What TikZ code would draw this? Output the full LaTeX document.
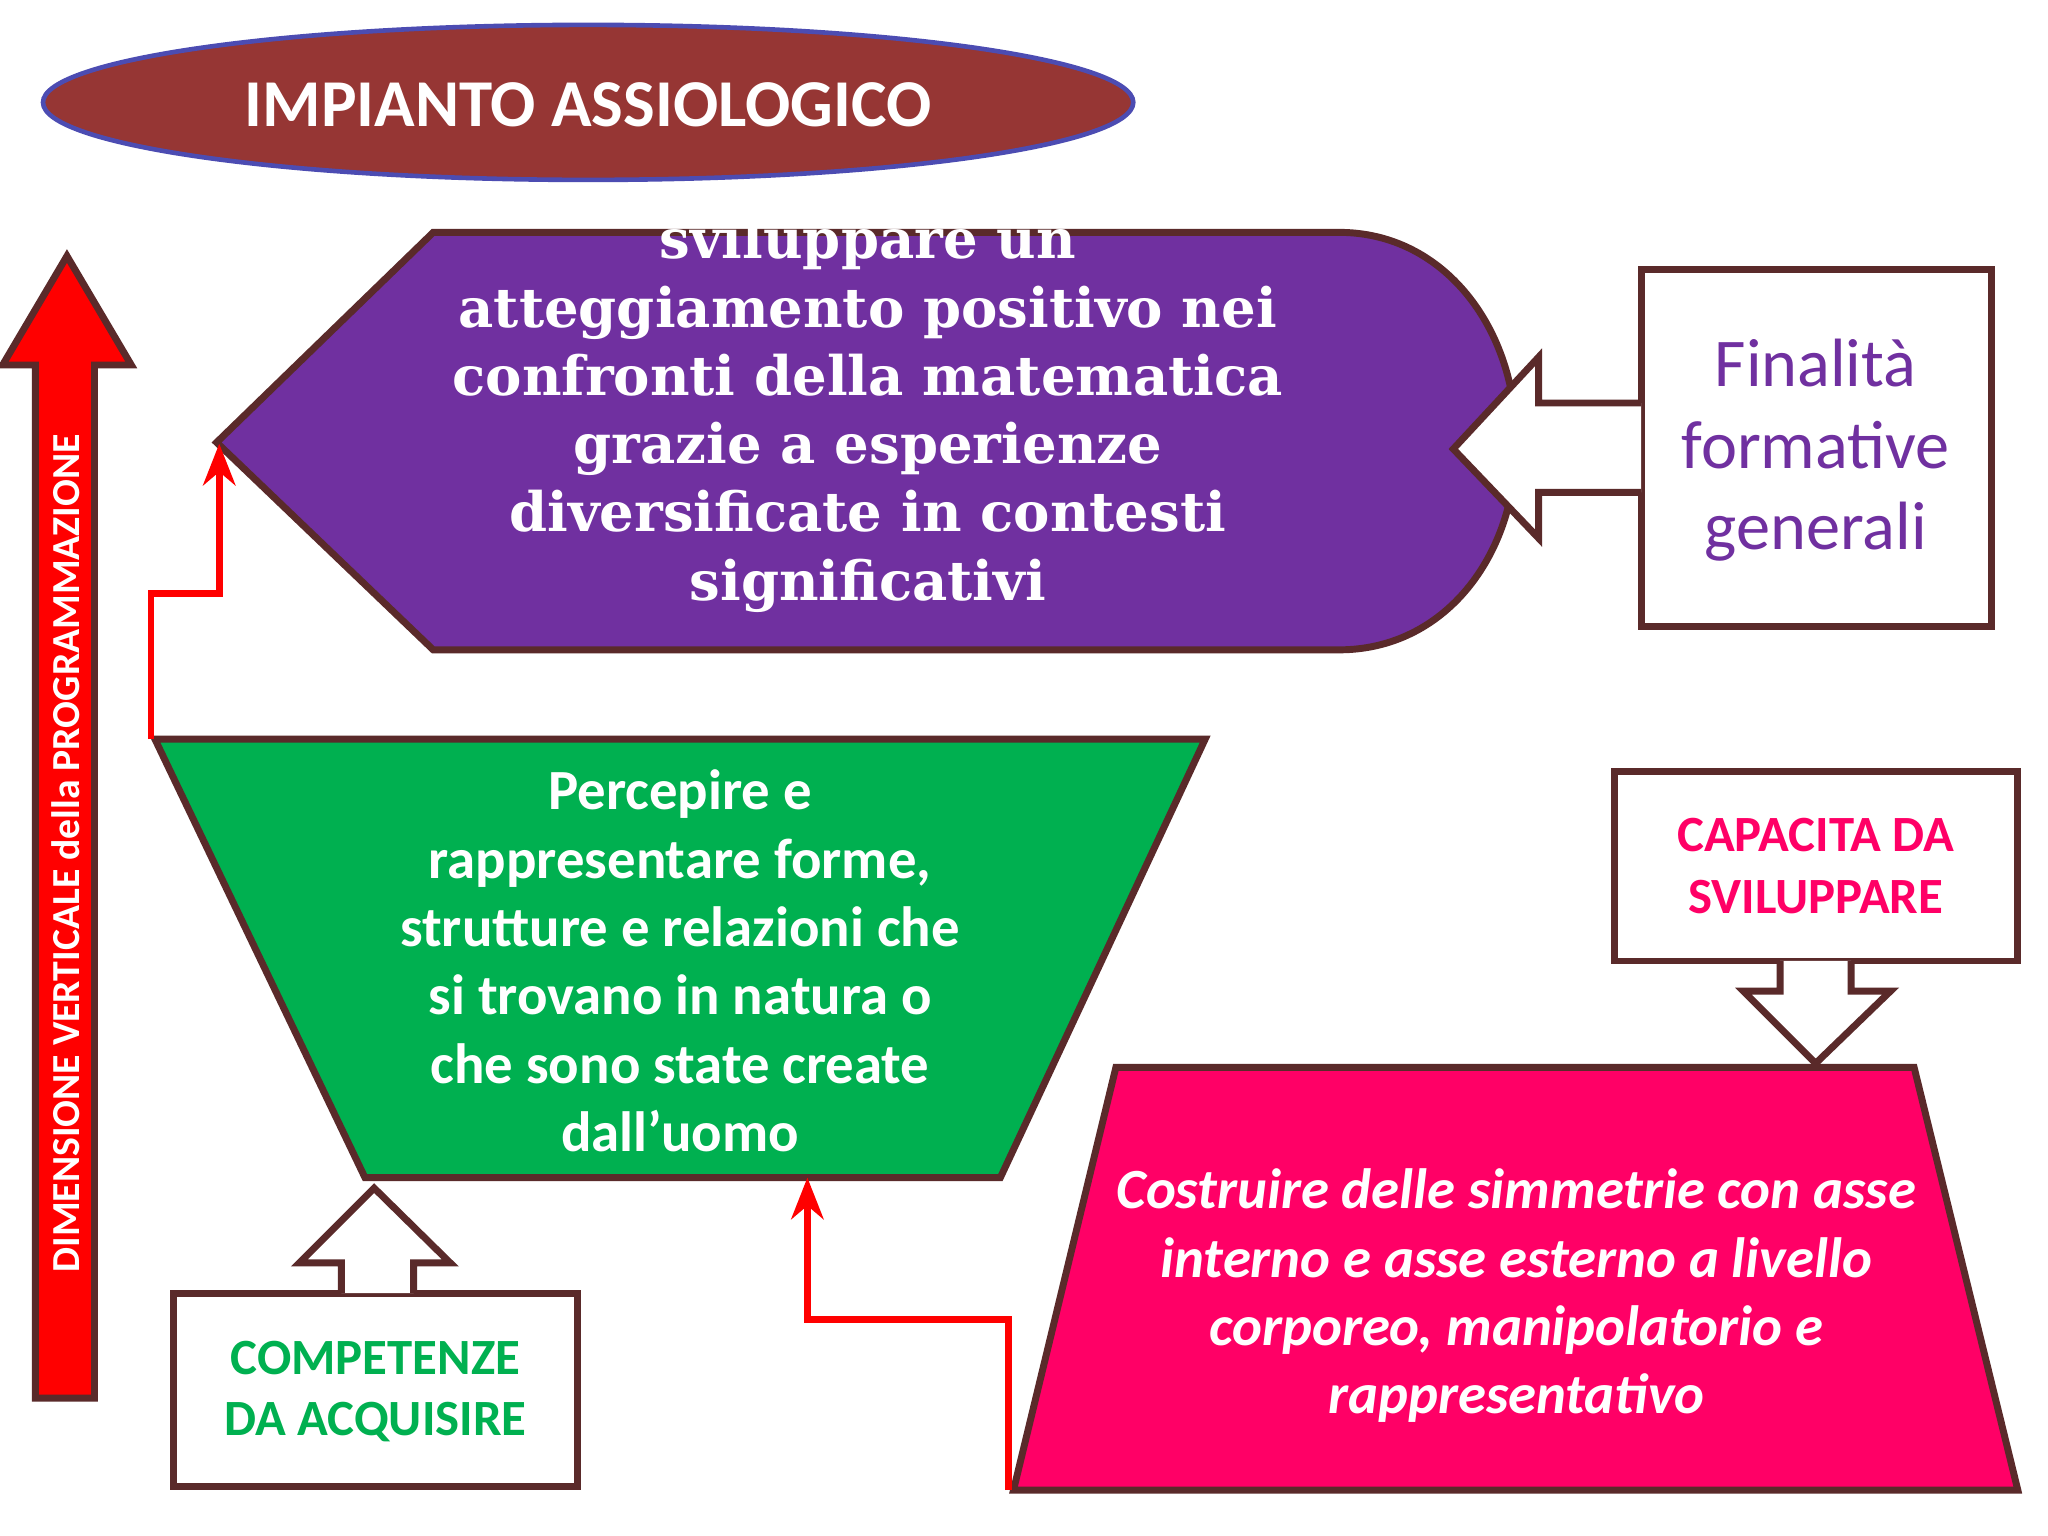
\documentclass[tikz,border=0pt]{standalone}
\usepackage{fontspec}
\setmainfont{Carlito}
\newfontfamily\slab{DejaVu Serif}
\usetikzlibrary{shapes.geometric,arrows.meta}
\definecolor{brd}{HTML}{5A2A2A}
\definecolor{purp}{HTML}{7030A0}
\definecolor{grn}{HTML}{00B050}
\definecolor{pnk}{HTML}{FF0066}
\definecolor{titred}{HTML}{963634}
\tikzset{shp/.style={draw=brd,line width=1.5pt},
 conn/.style={red,line width=1.5pt,-{Stealth[length=9pt,width=7pt]}},
 call/.style={draw=brd,line width=1.5pt,fill=white}}
\begin{document}
\begin{tikzpicture}[x=0.01cm,y=-0.01cm]
\useasboundingbox (0,0) rectangle (1560,1170);
\fill[white] (0,0) rectangle (1560,1170);
% title
\node[ellipse,fill=titred,draw=blue!40!gray,line width=1pt,minimum width=830\pgflinewidth*0+8.3cm,minimum height=1.18cm] (title) at (448,78) {};
\node[text=white,font=\bfseries\fontsize{14.5}{17}\selectfont] at (448,80) {IMPIANTO ASSIOLOGICO};
% vertical arrow
\draw[shp,fill=red] (27,1065) -- (27,278) -- (2,278) -- (51,195) -- (100,278) -- (72,278) -- (72,1065) -- cycle;
\node[rotate=90,text=white,font=\bfseries\fontsize{8.6}{10}\selectfont] (vert) at (50,650) {DIMENSIONE VERTICALE della PROGRAMMAZIONE};
% purple
\draw[shp,fill=purp] (330,177) -- (1020,177) .. controls (1100,177) and (1155,250) .. (1155,337) .. controls (1155,424) and (1100,495) .. (1020,495) -- (330,495) -- (165,337) -- cycle;
\coordinate (ptip) at (167,338);
\node[text=white,align=center,font=\slab\bfseries\fontsize{11.8}{14.8}\selectfont] (ptext) at (661,316) {sviluppare un\\atteggiamento positivo nei\\confronti della matematica\\grazie a esperienze\\diversificate in contesti\\significativi};
% finalita callout
\draw[call] (1250,205) rectangle (1517,477);
\draw[call] (1250,307) -- (1172,307) -- (1172,272) -- (1107,342) -- (1172,410) -- (1172,375) -- (1250,375);
\node[text=purp,align=center,font=\fontsize{14.8}{17.6}\selectfont] (fin) at (1383,343) {Finalità\\formative\\generali};
% green
\draw[shp,fill=grn] (118,563) -- (918,563) -- (762,897) -- (278,897) -- cycle;
\node[text=white,align=center,font=\bfseries\fontsize{12.3}{14.8}\selectfont] (gtext) at (518,732) {Percepire e\\rappresentare forme,\\strutture e relazioni che\\si trovano in natura o\\che sono state create\\dall’uomo};
\coordinate (gb) at (115,563);
\coordinate (gbot) at (615,897);
\draw[conn] (gb) -- (115,452) -- (167,452) -- (ptip);
% competenze callout
\draw[call] (132,985) rectangle (440,1132);
\draw[call] (260,985) -- (260,962) -- (228,962) -- (285,905) -- (343,962) -- (315,962) -- (315,985);
\node[text=grn,align=center,font=\bfseries\fontsize{11}{13.4}\selectfont] (comp) at (286,1060) {COMPETENZE\\DA ACQUISIRE};
% pink
\draw[shp,fill=pnk] (850,813) -- (1458,813) -- (1537,1135) -- (772,1135) -- cycle;
\node[text=white,align=center,font=\bfseries\itshape\fontsize{12.3}{14.8}\selectfont] (ptext2) at (1155,987) {Costruire delle simmetrie con asse\\interno e asse esterno a livello\\corporeo, manipolatorio e\\rappresentativo};
\coordinate (pk) at (768,1135);
\draw[conn] (pk) -- (768,1005) -- (615,1005) -- (gbot);
% capacita callout
\draw[call] (1230,588) rectangle (1537,732);
\draw[call] (1356,732) -- (1356,755) -- (1328,755) -- (1383,810) -- (1440,755) -- (1410,755) -- (1410,732);
\node[text=pnk,align=center,font=\bfseries\fontsize{11}{13.4}\selectfont] (cap) at (1383,660) {CAPACITA DA\\SVILUPPARE};
\end{tikzpicture}
\end{document}
